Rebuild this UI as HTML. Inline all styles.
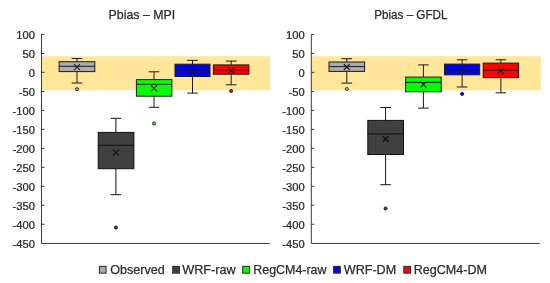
<!DOCTYPE html>
<html><head><meta charset="utf-8"><title>Pbias</title>
<style>
html,body{margin:0;padding:0;background:#fff;}
svg{display:block}
text{font-family:"Liberation Sans",sans-serif;fill:#2b2b2b;stroke:#2b2b2b;stroke-width:0.25px;}
.lab{font-size:10px;}
.ttl{font-size:12.6px;}
.leg{font-size:12.9px;}
</style></head><body>
<svg width="550" height="283" viewBox="0 0 550 283">
<rect width="550" height="283" fill="#fff"/>
<rect x="41.5" y="56.2" width="228.7" height="34.1" fill="#FFE699"/>
<path d="M41.5 34.4V243.45H269.7M41.5 34.40h3M41.5 53.39h3M41.5 72.37h3M41.5 91.36h3M41.5 110.35h3M41.5 129.33h3M41.5 148.32h3M41.5 167.30h3M41.5 186.29h3M41.5 205.28h3M41.5 224.26h3" stroke="#3a3a3a" stroke-width="1" fill="none"/>
<text transform="translate(34.9,38.80) scale(1.12,1)" text-anchor="end" class="lab">100</text>
<text transform="translate(34.9,57.79) scale(1.12,1)" text-anchor="end" class="lab">50</text>
<text transform="translate(34.9,76.77) scale(1.12,1)" text-anchor="end" class="lab">0</text>
<text transform="translate(34.9,95.76) scale(1.12,1)" text-anchor="end" class="lab">-50</text>
<text transform="translate(34.9,114.75) scale(1.12,1)" text-anchor="end" class="lab">-100</text>
<text transform="translate(34.9,133.73) scale(1.12,1)" text-anchor="end" class="lab">-150</text>
<text transform="translate(34.9,152.72) scale(1.12,1)" text-anchor="end" class="lab">-200</text>
<text transform="translate(34.9,171.70) scale(1.12,1)" text-anchor="end" class="lab">-250</text>
<text transform="translate(34.9,190.69) scale(1.12,1)" text-anchor="end" class="lab">-300</text>
<text transform="translate(34.9,209.68) scale(1.12,1)" text-anchor="end" class="lab">-350</text>
<text transform="translate(34.9,228.66) scale(1.12,1)" text-anchor="end" class="lab">-400</text>
<text transform="translate(34.9,247.65) scale(1.12,1)" text-anchor="end" class="lab">-450</text>
<rect x="311.3" y="56.2" width="229.6" height="34.1" fill="#FFE699"/>
<path d="M311.3 34.4V243.45H539.8M311.3 34.40h3M311.3 53.39h3M311.3 72.37h3M311.3 91.36h3M311.3 110.35h3M311.3 129.33h3M311.3 148.32h3M311.3 167.30h3M311.3 186.29h3M311.3 205.28h3M311.3 224.26h3" stroke="#3a3a3a" stroke-width="1" fill="none"/>
<text transform="translate(304.7,38.80) scale(1.12,1)" text-anchor="end" class="lab">100</text>
<text transform="translate(304.7,57.79) scale(1.12,1)" text-anchor="end" class="lab">50</text>
<text transform="translate(304.7,76.77) scale(1.12,1)" text-anchor="end" class="lab">0</text>
<text transform="translate(304.7,95.76) scale(1.12,1)" text-anchor="end" class="lab">-50</text>
<text transform="translate(304.7,114.75) scale(1.12,1)" text-anchor="end" class="lab">-100</text>
<text transform="translate(304.7,133.73) scale(1.12,1)" text-anchor="end" class="lab">-150</text>
<text transform="translate(304.7,152.72) scale(1.12,1)" text-anchor="end" class="lab">-200</text>
<text transform="translate(304.7,171.70) scale(1.12,1)" text-anchor="end" class="lab">-250</text>
<text transform="translate(304.7,190.69) scale(1.12,1)" text-anchor="end" class="lab">-300</text>
<text transform="translate(304.7,209.68) scale(1.12,1)" text-anchor="end" class="lab">-350</text>
<text transform="translate(304.7,228.66) scale(1.12,1)" text-anchor="end" class="lab">-400</text>
<text transform="translate(304.7,247.65) scale(1.12,1)" text-anchor="end" class="lab">-450</text>
<path d="M77 58.5V61.7M77 71.6V83M71.7 58.5H82.3M71.7 83H82.3" stroke="#1a1a1a" stroke-width="1.0" fill="none"/>
<rect x="59.1" y="61.7" width="35.7" height="9.9" fill="#ACACAC" stroke="#1a1a1a" stroke-width="1.0"/>
<path d="M59.1 66.3H94.8" stroke="#1a1a1a" stroke-width="1.0"/>
<path d="M74.0 64.1L80.0 70.1M74.0 70.1L80.0 64.1" stroke="#1a1a1a" stroke-width="1.1" fill="none"/>
<circle cx="77" cy="89.2" r="1.6" fill="#ACACAC" stroke="#1a1a1a" stroke-width="0.8"/>
<path d="M115.9 118.3V132.4M115.9 168.7V194.7M110.60000000000001 118.3H121.2M110.60000000000001 194.7H121.2" stroke="#111111" stroke-width="1.0" fill="none"/>
<rect x="98.2" y="132.4" width="35.7" height="36.3" fill="#404040" stroke="#111111" stroke-width="1.0"/>
<path d="M98.2 145.3H133.9" stroke="#111111" stroke-width="1.0"/>
<path d="M112.9 149.7L118.9 155.7M112.9 155.7L118.9 149.7" stroke="#111111" stroke-width="1.1" fill="none"/>
<circle cx="115.9" cy="227.5" r="1.6" fill="#404040" stroke="#111111" stroke-width="0.8"/>
<path d="M154 71.8V79.6M154 96.2V107.3M148.7 71.8H159.3M148.7 107.3H159.3" stroke="#1a1a1a" stroke-width="1.0" fill="none"/>
<rect x="136.4" y="79.6" width="35.5" height="16.6" fill="#00FF00" stroke="#1a1a1a" stroke-width="1.0"/>
<path d="M136.4 84.3H171.9" stroke="#1a1a1a" stroke-width="1.0"/>
<path d="M151.0 85.4L157.0 91.4M151.0 91.4L157.0 85.4" stroke="#1a1a1a" stroke-width="1.1" fill="none"/>
<circle cx="154" cy="123.5" r="1.6" fill="#00FF00" stroke="#1a1a1a" stroke-width="0.8"/>
<path d="M192.5 60.4V64.2M192.5 76.5V93.1M187.2 60.4H197.8M187.2 93.1H197.8" stroke="#1a1a1a" stroke-width="1.0" fill="none"/>
<rect x="175" y="64.2" width="35.0" height="12.3" fill="#0000FF" stroke="#1a1a1a" stroke-width="1.0"/>
<path d="M175 70.4H210" stroke="#1a1a1a" stroke-width="1.0"/>
<path d="M189.5 68.8L195.5 74.8M189.5 74.8L195.5 68.8" stroke="#1a1a1a" stroke-width="1.1" fill="none"/>
<path d="M231.2 61.1V64.9M231.2 74.2V84.8M225.89999999999998 61.1H236.5M225.89999999999998 84.8H236.5" stroke="#1a1a1a" stroke-width="1.0" fill="none"/>
<rect x="213.4" y="64.9" width="35.5" height="9.3" fill="#FF0000" stroke="#1a1a1a" stroke-width="1.0"/>
<path d="M213.4 69.9H248.9" stroke="#1a1a1a" stroke-width="1.0"/>
<path d="M228.2 67.4L234.2 73.4M228.2 73.4L234.2 67.4" stroke="#1a1a1a" stroke-width="1.1" fill="none"/>
<circle cx="231.2" cy="91" r="1.6" fill="#FF0000" stroke="#1a1a1a" stroke-width="0.8"/>
<path d="M346.8 58.7V62M346.8 71.4V83.1M341.5 58.7H352.1M341.5 83.1H352.1" stroke="#1a1a1a" stroke-width="1.0" fill="none"/>
<rect x="329" y="62" width="35.6" height="9.4" fill="#ACACAC" stroke="#1a1a1a" stroke-width="1.0"/>
<path d="M329 66.6H364.6" stroke="#1a1a1a" stroke-width="1.0"/>
<path d="M343.8 64.0L349.8 70.0M343.8 70.0L349.8 64.0" stroke="#1a1a1a" stroke-width="1.1" fill="none"/>
<circle cx="346.8" cy="89" r="1.6" fill="#ACACAC" stroke="#1a1a1a" stroke-width="0.8"/>
<path d="M385.6 107.5V120.4M385.6 154.5V184.7M380.3 107.5H390.90000000000003M380.3 184.7H390.90000000000003" stroke="#111111" stroke-width="1.0" fill="none"/>
<rect x="367.8" y="120.4" width="35.7" height="34.1" fill="#404040" stroke="#111111" stroke-width="1.0"/>
<path d="M367.8 133.9H403.5" stroke="#111111" stroke-width="1.0"/>
<path d="M382.6 136.0L388.6 142.0M382.6 142.0L388.6 136.0" stroke="#111111" stroke-width="1.1" fill="none"/>
<circle cx="385.6" cy="208.5" r="1.6" fill="#404040" stroke="#111111" stroke-width="0.8"/>
<path d="M423.4 64.9V77.1M423.4 91.8V108.1M418.09999999999997 64.9H428.7M418.09999999999997 108.1H428.7" stroke="#1a1a1a" stroke-width="1.0" fill="none"/>
<rect x="405.6" y="77.1" width="35.6" height="14.7" fill="#00FF00" stroke="#1a1a1a" stroke-width="1.0"/>
<path d="M405.6 82.4H441.2" stroke="#1a1a1a" stroke-width="1.0"/>
<path d="M420.4 81.5L426.4 87.5M420.4 87.5L426.4 81.5" stroke="#1a1a1a" stroke-width="1.1" fill="none"/>
<path d="M462.1 59.8V64.1M462.1 74.8V87M456.8 59.8H467.40000000000003M456.8 87H467.40000000000003" stroke="#1a1a1a" stroke-width="1.0" fill="none"/>
<rect x="444.5" y="64.1" width="35.2" height="10.7" fill="#0000FF" stroke="#1a1a1a" stroke-width="1.0"/>
<path d="M444.5 70.2H479.7" stroke="#1a1a1a" stroke-width="1.0"/>
<path d="M459.1 68.2L465.1 74.2M459.1 74.2L465.1 68.2" stroke="#1a1a1a" stroke-width="1.1" fill="none"/>
<circle cx="462.1" cy="93.9" r="1.6" fill="#0000FF" stroke="#1a1a1a" stroke-width="0.8"/>
<path d="M500.9 59.8V63.1M500.9 77.6V92.8M495.59999999999997 59.8H506.2M495.59999999999997 92.8H506.2" stroke="#1a1a1a" stroke-width="1.0" fill="none"/>
<rect x="483.2" y="63.1" width="35.4" height="14.5" fill="#FF0000" stroke="#1a1a1a" stroke-width="1.0"/>
<path d="M483.2 70.2H518.6" stroke="#1a1a1a" stroke-width="1.0"/>
<path d="M497.9 68.2L503.9 74.2M497.9 74.2L503.9 68.2" stroke="#1a1a1a" stroke-width="1.1" fill="none"/>
<text x="108.6" y="19.1" class="ttl" textLength="66.7" lengthAdjust="spacingAndGlyphs">Pbias – MPI</text>
<text x="374.2" y="19.1" class="ttl" textLength="73.3" lengthAdjust="spacingAndGlyphs">Pbias – GFDL</text>
<rect x="99.4" y="266.35" width="6.7" height="6.8" fill="#ACACAC" stroke="#2a2a2a" stroke-width="1"/>
<text x="110.2" y="274.15" class="leg" textLength="54.6" lengthAdjust="spacingAndGlyphs">Observed</text>
<rect x="172.7" y="266.35" width="6.7" height="6.8" fill="#404040" stroke="#2a2a2a" stroke-width="1"/>
<text x="182.2" y="274.15" class="leg" textLength="53.6" lengthAdjust="spacingAndGlyphs">WRF-raw</text>
<rect x="242.7" y="266.35" width="6.7" height="6.8" fill="#00FF00" stroke="#2a2a2a" stroke-width="1"/>
<text x="253.3" y="274.15" class="leg" textLength="73.2" lengthAdjust="spacingAndGlyphs">RegCM4-raw</text>
<rect x="333.6" y="266.35" width="6.7" height="6.8" fill="#0000FF" stroke="#2a2a2a" stroke-width="1"/>
<text x="343.8" y="274.15" class="leg" textLength="52.4" lengthAdjust="spacingAndGlyphs">WRF-DM</text>
<rect x="403.8" y="266.35" width="6.7" height="6.8" fill="#FF0000" stroke="#2a2a2a" stroke-width="1"/>
<text x="413.8" y="274.15" class="leg" textLength="73.2" lengthAdjust="spacingAndGlyphs">RegCM4-DM</text>
</svg>
</body></html>
